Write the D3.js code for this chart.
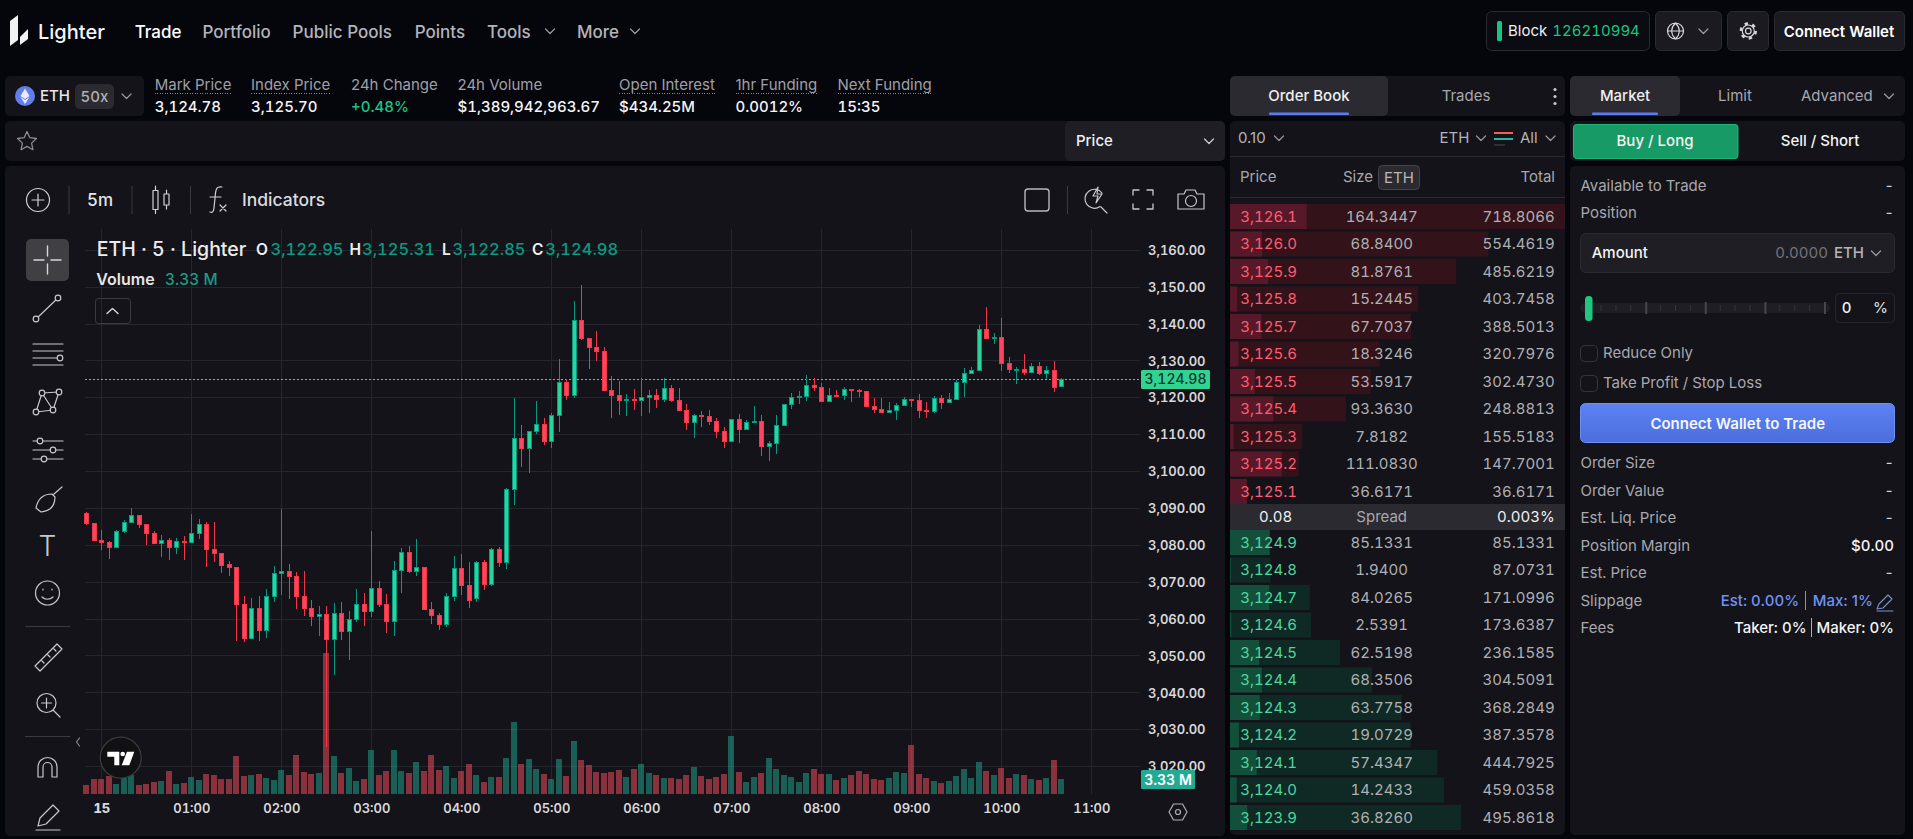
<!DOCTYPE html>
<html>
<head>
<meta charset="utf-8">
<title>Lighter ETH</title>
<script src="https://cdn.jsdelivr.net/npm/d3@7"></script>
<style>
html, body { margin: 0; padding: 0; background: #05050c; overflow: hidden; }
text { font-family: Inter, "Noto Sans", sans-serif; font-variant-numeric: tabular-nums; }
</style>
</head>
<body>
<script>
// 5m candles (first one is 23:50, last one is 10:40)
var opens = [3088.7,3086.0,3081.4,3080.8,3079.5,3083.7,3086.2,3088.1,3085.7,3083.3,
3080.5,3081.4,3079.4,3081.1,3080.7,3083.2,3085.7,3078.9,3077.8,3074.7,
3074.0,3064.0,3054.7,3062.9,3056.9,3066.1,3072.3,3073.0,3071.6,3066.2,
3062.9,3060.7,3061.3,3054.4,3061.6,3056.6,3059.9,3064.0,3062.0,3068.4,
3064.0,3059.3,3073.1,3078.1,3072.9,3074.0,3062.7,3061.0,3058.5,3066.0,
3073.8,3069.0,3065.5,3075.4,3069.5,3078.9,3075.3,3095.2,3109.0,3106.2,
3110.9,3112.8,3108.1,3115.3,3124.2,3120.6,3141.0,3136.1,3133.7,3132.6,
3122.0,3120.7,3119.2,3119.6,3119.2,3120.0,3120.7,3119.5,3122.6,3119.3,
3116.6,3113.3,3115.3,3115.0,3113.6,3110.9,3108.1,3114.2,3111.4,3113.4,
3113.6,3106.8,3107.6,3112.5,3118.2,3120.1,3120.3,3123.4,3122.9,3119.0,
3120.7,3120.7,3122.3,3122.0,3121.8,3117.7,3116.9,3116.0,3116.5,3118.0,
3119.6,3119.3,3116.6,3116.3,3119.9,3118.7,3119.6,3124.1,3126.6,3127.5,
3138.6,3136.2,3136.4,3129.4,3127.6,3127.7,3126.8,3128.5,3126.6,3127.5,3122.95];
var highs = [3089.1,3086.0,3084.2,3081.2,3084.2,3086.9,3090.1,3088.1,3085.7,3083.9,
3082.8,3082.0,3082.0,3082.6,3088.5,3087.1,3086.3,3086.3,3077.8,3075.8,
3074.0,3066.3,3065.7,3066.3,3068.2,3074.4,3089.9,3074.9,3072.7,3073.0,
3065.1,3063.5,3063.5,3064.3,3064.6,3062.1,3068.1,3067.0,3083.9,3070.2,
3066.7,3075.8,3079.2,3079.8,3081.7,3074.0,3064.5,3061.6,3067.0,3077.1,
3077.7,3075.5,3075.8,3076.0,3079.2,3079.5,3095.5,3119.9,3112.6,3110.9,
3119.1,3114.4,3115.8,3130.5,3125.0,3146.3,3150.6,3136.1,3138.1,3133.7,
3125.8,3124.5,3121.0,3122.3,3125.3,3122.0,3122.3,3125.3,3123.4,3122.6,
3118.2,3115.5,3116.3,3116.6,3114.4,3112.0,3114.2,3115.5,3113.9,3117.8,
3115.3,3108.2,3115.3,3118.2,3121.2,3121.9,3126.1,3125.3,3123.9,3122.7,
3122.0,3122.8,3122.3,3122.3,3121.8,3119.9,3119.9,3118.8,3118.5,3120.1,
3119.8,3121.0,3118.8,3120.4,3120.7,3121.2,3124.7,3128.0,3128.3,3139.7,
3144.5,3137.5,3141.6,3131.0,3128.3,3131.8,3129.4,3129.6,3128.5,3129.9,3125.31];
var lows = [3085.5,3081.3,3078.8,3076.4,3079.5,3083.4,3086.2,3084.8,3080.1,3080.5,
3076.9,3075.9,3077.7,3076.1,3080.5,3081.8,3074.2,3075.6,3072.6,3071.8,
3054.1,3053.9,3054.7,3054.1,3055.0,3064.7,3066.5,3065.5,3062.8,3060.9,
3058.2,3055.5,3025.2,3044.9,3054.4,3049.0,3059.3,3058.0,3060.7,3063.4,
3056.3,3055.4,3067.2,3072.6,3071.8,3062.6,3058.7,3057.0,3057.8,3065.0,
3066.5,3063.0,3064.5,3068.0,3069.0,3074.0,3073.5,3090.9,3101.3,3099.7,
3110.3,3107.2,3106.5,3110.8,3119.5,3120.0,3135.8,3127.9,3130.1,3121.9,
3114.6,3115.4,3115.2,3116.8,3115.2,3116.0,3117.3,3119.0,3119.0,3116.5,
3111.4,3109.2,3112.2,3112.5,3109.2,3106.5,3108.1,3107.8,3111.4,3113.3,
3104.3,3103.0,3104.9,3112.5,3117.0,3118.2,3119.2,3121.9,3119.0,3119.0,
3120.6,3119.5,3119.0,3120.3,3117.6,3116.0,3116.0,3116.0,3114.1,3118.0,
3117.5,3114.6,3114.6,3116.0,3117.1,3118.7,3119.6,3120.3,3126.6,3127.5,
3136.0,3134.7,3127.4,3126.8,3123.8,3126.3,3126.6,3126.3,3125.0,3121.7,3122.85];
var closes = [3085.8,3081.3,3080.7,3079.4,3083.8,3086.2,3088.1,3085.6,3083.2,3080.5,
3081.4,3079.4,3081.1,3081.0,3083.3,3085.7,3078.9,3077.7,3074.5,3074.0,
3063.9,3054.7,3062.9,3056.9,3066.2,3072.4,3073.0,3071.5,3066.1,3062.8,
3060.7,3061.3,3054.4,3061.6,3056.6,3059.9,3064.0,3062.0,3068.4,3063.9,
3059.3,3073.2,3078.1,3072.9,3074.0,3062.6,3060.9,3058.5,3066.0,3073.8,
3069.0,3065.0,3075.4,3069.5,3078.9,3075.3,3095.2,3109.0,3106.2,3110.9,
3112.8,3108.1,3115.3,3124.2,3120.6,3141.0,3136.0,3133.6,3132.5,3121.9,
3120.6,3119.2,3119.6,3119.5,3120.1,3120.7,3119.5,3122.6,3119.2,3116.5,
3113.3,3115.3,3115.2,3113.5,3110.8,3108.1,3114.2,3111.4,3113.4,3113.6,
3106.8,3107.7,3112.5,3118.2,3120.1,3120.4,3123.4,3122.8,3119.0,3120.7,
3120.6,3122.3,3122.2,3121.7,3117.6,3116.8,3116.0,3116.6,3118.0,3119.6,
3119.3,3116.5,3116.3,3119.9,3118.7,3119.6,3124.2,3126.6,3127.5,3138.6,
3136.0,3136.3,3129.3,3127.6,3127.7,3126.8,3128.5,3126.6,3127.5,3122.8,3124.98];
// volume per candle, millions
var volumes = [2.0,3.33,3.33,4.0,2.22,3.8,4.2,2.0,2.2,2.67,2.9,5.1,2.2,2.44,3.8,3.1,4.44,4.2,3.33,3.33,
8.44,4.0,4.2,4.44,3.55,3.1,5.33,4.2,8.67,4.9,4.44,4.67,31.3,8.44,4.67,5.78,2.9,3.33,9.78,4.2,
5.1,9.78,5.1,4.67,7.1,5.1,8.67,5.33,6.2,3.55,5.1,6.67,4.2,2.67,3.8,3.8,8.0,16.0,6.67,7.78,
5.55,4.44,3.33,7.78,4.0,11.78,7.55,6.44,4.9,4.67,4.9,5.33,3.8,5.55,6.67,4.67,4.2,3.55,3.55,3.33,
4.2,6.0,4.0,3.33,3.8,4.44,12.9,4.9,2.67,3.8,4.67,8.0,5.55,4.2,3.8,2.67,4.67,5.55,4.44,4.44,
3.1,3.55,4.2,5.1,4.44,3.33,3.1,3.55,4.9,4.67,10.9,4.44,3.55,2.9,2.44,2.9,4.0,5.55,3.55,7.1,
5.1,4.2,5.78,3.55,4.44,4.2,3.33,3.1,3.55,7.55,3.33];
var firstBarMinutes = -10;
var barMinutes = 5;
var priceTicks = [3160,3150,3140,3130,3120,3110,3100,3090,3080,3070,3060,3050,3040,3030,3020];
var hourMinutes = [0,60,120,180,240,300,360,420,480,540,600,660];
var hourLabels = ["15","01:00","02:00","03:00","04:00","05:00","06:00","07:00","08:00","09:00","10:00","11:00"];
var lastPrice = 3124.98;
var lastVolume = 3.33;

// order book
var askPrices = ["3,126.1","3,126.0","3,125.9","3,125.8","3,125.7","3,125.6","3,125.5","3,125.4","3,125.3","3,125.2","3,125.1"];
var askSizes = [164.3447,68.84,81.8761,15.2445,67.7037,18.3246,53.5917,93.363,7.8182,111.083,36.6171];
var askTotals = [718.8066,554.4619,485.6219,403.7458,388.5013,320.7976,302.473,248.8813,155.5183,147.7001,36.6171];
var bidPrices = ["3,124.9","3,124.8","3,124.7","3,124.6","3,124.5","3,124.4","3,124.3","3,124.2","3,124.1","3,124.0","3,123.9"];
var bidSizes = [85.1331,1.94,84.0265,2.5391,62.5198,68.3506,63.7758,19.0729,57.4347,14.2433,36.826];
var bidTotals = [85.1331,87.0731,171.0996,173.6387,236.1585,304.5091,368.2849,387.3578,444.7925,459.0358,495.8618];

var statLabels = ["Mark Price","Index Price","24h Change","24h Volume","Open Interest","1hr Funding","Next Funding"];
var statValues = ["3,124.78","3,125.70","+0.48%","$1,389,942,963.67","$434.25M","0.0012%","15:35"];
var navItems = ["Trade","Portfolio","Public Pools","Points","Tools","More"];
var orderLabels = ["Order Size","Order Value","Est. Liq. Price","Position Margin","Est. Price"];
var orderValues = ["-","-","-","$0.00","-"];

var panelBg = "#131319", activeBg = "#2a2a30", grey = "#a8a8ae", soft = "#d4d4d8";
var upFill = "#2bd49b", upEdge = "#089981", downFill = "#ff4560", downEdge = "#f23645";

var svg = d3.select("body").append("svg").attr("width", 1913).attr("height", 839).style("display", "block");

function box(x0, y0, x1, y1, fill, r, stroke, parent) {
    return (parent || svg).append("rect").attr("x", x0).attr("y", y0).attr("width", x1 - x0).attr("height", y1 - y0)
        .attr("fill", fill).attr("rx", r || 0).attr("stroke", stroke || "none");
}
function txt(x, y, s, size, fill, weight, anchor, parent) {
    return (parent || svg).append("text").attr("x", x).attr("y", y).attr("dy", "0.36em").text(s)
        .attr("font-size", size).attr("fill", fill || "#fff").attr("font-weight", weight || 400)
        .attr("text-anchor", anchor || "start");
}
function icon(d, stroke, w, fill) {
    return svg.append("path").attr("d", d).attr("fill", fill || "none").attr("stroke", stroke || "#cfcfd3")
        .attr("stroke-width", w || 1.3).attr("stroke-linejoin", "round").attr("stroke-linecap", "round");
}
function chevron(x, y, col) {
    icon("M" + (x - 4.5) + " " + (y - 2) + "L" + x + " " + (y + 2.5) + "L" + (x + 4.5) + " " + (y - 2), col || "#9a9aa0", 1.2);
}
function dot(cx, cy, r, stroke) {
    svg.append("circle").attr("cx", cx).attr("cy", cy).attr("r", r).attr("fill", panelBg).attr("stroke", stroke || "#c8c8cc").attr("stroke-width", 1.2);
}

// ---- top nav
icon("M10 21L18 15L18 40L10 46Z", "none", 0, "#f2f2f2");
icon("M20 37L28 29L28 39L20 45Z", "none", 0, "#f2f2f2");
txt(38, 32, "Lighter", 20, "#f5f5f5", 500);
var navX = [134.7, 202.4, 292.6, 414.7, 487, 577];
navItems.forEach(function(n, i) {
    txt(navX[i], 32, n, 17, i == 0 ? "#fff" : "#b4b4ba", 500);
});
chevron(550, 31); chevron(635, 31);

box(1486.5, 11.5, 1649.5, 50.5, "#0b0b12", 5, "#2a2a30");
box(1497, 21, 1502, 41, "#16c784", 1.5);
txt(1508, 31, "Block", 15, "#f0f0f0", 400);
txt(1552.3, 31, "126210994", 15, "#16c784", 400);
box(1655.5, 11.5, 1721.5, 50.5, "#1a1a20", 5, "#2a2a30");
icon("M1667.5 31a8 8 0 1 0 16 0a8 8 0 1 0 -16 0M1667.5 31h16M1675.5 23c-5 5 -5 11 0 16M1675.5 23c5 5 5 11 0 16", "#d8d8dc", 1.2);
chevron(1703.4, 31);
box(1727.5, 11.5, 1768.5, 50.5, "#1a1a20", 5, "#2a2a30");
// gear: ring plus a dashed ring for the teeth
svg.append("circle").attr("cx", 1748.3).attr("cy", 31).attr("r", 6).attr("fill", "none").attr("stroke", "#d8d8dc").attr("stroke-width", 1.2);
svg.append("circle").attr("cx", 1748.3).attr("cy", 31).attr("r", 7.5).attr("fill", "none").attr("stroke", "#d8d8dc").attr("stroke-width", 2.4).attr("stroke-dasharray", "3.4 4.45");
svg.append("circle").attr("cx", 1748.3).attr("cy", 31).attr("r", 2.8).attr("fill", "none").attr("stroke", "#d8d8dc").attr("stroke-width", 1.2);
box(1774.5, 11.5, 1904.5, 50.5, "#1a1a20", 5, "#2a2a30");
txt(1839, 32, "Connect Wallet", 15, "#fff", 600, "middle");

// ---- market stats
box(5, 76, 144, 116, panelBg, 5);
svg.append("circle").attr("cx", 25).attr("cy", 96).attr("r", 10).attr("fill", "#627eea");
icon("M25 88.5L29.5 96L25 99L20.5 96ZM20.5 97L25 104L29.5 97L25 100Z", "none", 0, "#e8ecff");
txt(40, 96, "ETH", 15, "#e8e8ea", 500);
box(75, 84, 114, 109, activeBg, 5);
txt(94.5, 96.5, "50x", 15, "#b0b0b4", 500, "middle");
chevron(126.5, 96);
var statX = [154.7, 251, 351, 457.5, 619, 735.5, 837.5];
statLabels.forEach(function(l, i) {
    var t = txt(statX[i], 85, l, 15, "#a0a0a8").style("font-variant-numeric", "normal");
    if (i != 2 && i != 3) {
        var w = t.node().getComputedTextLength();
        svg.append("line").attr("x1", statX[i]).attr("x2", statX[i] + w).attr("y1", 93.5).attr("y2", 93.5)
            .attr("stroke", "#85858c").attr("stroke-dasharray", "1 1.5").attr("shape-rendering", "crispEdges");
    }
    txt(statX[i], 107, statValues[i], 15, i == 2 ? "#16c784" : "#f4f4f6", 500);
});

// ---- favourites strip
box(5, 121, 1225, 161, panelBg, 5);
icon("M27 131.5l2.9 6.2l6.6 .8l-4.9 4.6l1.3 6.6l-5.9 -3.3l-5.9 3.3l1.3 -6.6l-4.9 -4.6l6.6 -.8z", "#8c8c92", 1.3);
box(1065, 121, 1225, 161, "#1e1e24", 5);
txt(1076, 141, "Price", 15, "#f0f0f2", 500);
chevron(1209, 141, "#d0d0d4");

// ---- chart panel and toolbar
box(5, 166, 1225, 836, panelBg, 5);
icon("M26.5 200a11.5 11.5 0 1 0 23 0a11.5 11.5 0 1 0 -23 0M38 194v12M32 200h12", "#d0d0d4", 1.2);
[68.5, 131.5, 190].forEach(function(x) { box(x, 186, x + 1, 214, "#3a3a40"); });
txt(87, 200, "5m", 17, "#e6e6e8", 500);
icon("M153 190.5h5v19h-5zM155.5 186v4.5M155.5 209.5v4M164 194h5v11h-5zM166.5 190v4M166.5 205v4", "#d0d0d4", 1.2);
icon("M222 187c-5 -1 -6 2 -6.5 6l-1.5 15c-.4 4 -2 5 -4 4M210 197h11M220 205l6 6M226 205l-6 6", "#d0d0d4", 1.2);
txt(242, 200, "Indicators", 17.5, "#dcdce0", 500);
box(1025, 189, 1049, 211, "none", 3, "#b8b8bc").attr("stroke-width", 1.4);
box(1067, 186, 1068, 214, "#3a3a40");
icon("M1102 193a9.5 9.5 0 1 0 -2 13.5M1101 207l6 6M1098 187l-5 9h5l-2 7l6 -9h-5z", "#c8c8cc", 1.2);
icon("M1133 195v-5h6M1147 190h6v5M1153 204v5h-6M1139 209h-6v-5", "#c8c8cc", 1.3);
icon("M1178 194h6l2 -4h9l2 4h7v15h-26zM1185.5 201a5.5 5.5 0 1 0 11 0a5.5 5.5 0 1 0 -11 0", "#c8c8cc", 1.2);

// ---- left drawing tools
box(26, 239, 69, 281, "#3f3f44", 5);
icon("M47.5 246v10M47.5 264v10M34 260h10M51 260h10", "#d8d8dc", 1.4);
icon("M36 319L58 298", "#c8c8cc", 1.2); dot(36, 319, 2.8); dot(58, 298, 2.8);
icon("M33 344h30M33 351h30M33 358h24M33 365h30", "#c8c8cc", 1.2); dot(60, 358, 2.8);
icon("M36 412L42 393L53 410L59 392M36 412L53 410M42 393L59 392", "#c8c8cc", 1.2);
dot(36, 412, 2.8); dot(42, 393, 2.8); dot(53, 410, 2.8); dot(59, 392, 2.8);
icon("M33 441h30M33 450h30M33 459h30", "#c8c8cc", 1.2); dot(40, 441, 2.8); dot(53, 450, 2.8); dot(44, 459, 2.8);
icon("M36 508c2 -10 8 -14 16 -14l3 3c0 8 -4 14 -14 15zM54 494l8 -7", "#c8c8cc", 1.2);
txt(47.5, 546, "T", 28, "#c8c8cc", 300, "middle");
icon("M35.5 593a12 12 0 1 0 24 0a12 12 0 1 0 -24 0M42 597c3 3 8 3 11 0M43 589v1M52 589v1", "#c8c8cc", 1.2);
box(25, 626, 70, 627, "#3a3a40");
icon("M35 666L57 644L62 649L40 671ZM41 660l3 3M47 654l3 3M53 648l3 3", "#c8c8cc", 1.2);
icon("M37 703a9.5 9.5 0 1 0 19 0a9.5 9.5 0 1 0 -19 0M53 710l7 7M46.5 698v10M41.5 703h10", "#c8c8cc", 1.2);
box(25, 736, 70, 737, "#3a3a40");
icon("M38 777v-10a9.5 9.5 0 0 1 19 0v10h-5v-10a4.5 4.5 0 0 0 -9 0v10z", "#c8c8cc", 1.2);
icon("M38 826l2 -8l13 -13l6 6l-13 13zM36 830h24", "#c8c8cc", 1.2);
icon("M79.5 738l-3 4l3 4", "#8c8c92", 1.2);

// ---- chart
var plotLeft = 85, plotRight = 1140, plotTop = 229, plotBottom = 794;
var x = d3.scaleLinear().domain([0, 660]).range([101.3, 1091.3]);
var y = d3.scaleLinear().domain([3160, 3020]).range([250.3, 766.6]);
var yVol = d3.scaleLinear().domain([0, 31.3]).range([plotBottom, plotBottom - 141]);

var bars = opens.map(function(o, i) {
    return { minutes: firstBarMinutes + i * barMinutes, open: o, high: highs[i], low: lows[i], close: closes[i], volume: volumes[i] };
});

var chart = svg.append("g");
var grid = chart.append("g").attr("shape-rendering", "crispEdges");
grid.selectAll("line.h").data(priceTicks).join("line").attr("class", "h")
    .attr("x1", plotLeft).attr("x2", plotRight)
    .attr("y1", function(d) { return y(d); }).attr("y2", function(d) { return y(d); })
    .attr("stroke", "#25252c");
grid.selectAll("line.v").data(hourMinutes).join("line").attr("class", "v")
    .attr("y1", plotTop).attr("y2", plotBottom)
    .attr("x1", function(d) { return x(d); }).attr("x2", function(d) { return x(d); })
    .attr("stroke", "#25252c");

// volume sits under the candles
chart.append("g").attr("shape-rendering", "crispEdges").selectAll("rect").data(bars).join("rect")
    .attr("x", function(d) { return Math.round(x(d.minutes) - 3); })
    .attr("width", 6)
    .attr("y", function(d) { return yVol(d.volume); })
    .attr("height", function(d) { return plotBottom - yVol(d.volume); })
    .attr("fill", function(d) { return d.close < d.open ? "rgba(255,82,100,.5)" : "rgba(34,171,148,.5)"; });

// dotted last price line
chart.append("line").attr("x1", plotLeft).attr("x2", plotRight).attr("y1", y(lastPrice)).attr("y2", y(lastPrice))
    .attr("stroke", "#3bd6a3").attr("stroke-dasharray", "1.5 2.5").attr("shape-rendering", "crispEdges");

var candle = chart.append("g").attr("shape-rendering", "crispEdges").selectAll("g").data(bars).join("g");
candle.append("line")
    .attr("x1", function(d) { return Math.round(x(d.minutes)) + 0.5; })
    .attr("x2", function(d) { return Math.round(x(d.minutes)) + 0.5; })
    .attr("y1", function(d) { return y(d.high); })
    .attr("y2", function(d) { return y(d.low); })
    .attr("stroke", function(d) { return d.close < d.open ? downEdge : upEdge; });
candle.append("rect")
    .attr("x", function(d) { return Math.round(x(d.minutes)) - 1.5; })
    .attr("width", 4)
    .attr("y", function(d) { return Math.min(y(d.open), y(d.close)); })
    .attr("height", function(d) { return Math.max(Math.abs(y(d.open) - y(d.close)), 1); })
    .attr("fill", function(d) { return d.close < d.open ? downFill : upFill; })
    .attr("stroke", function(d) { return d.close < d.open ? downEdge : upEdge; });

// axes
var yAxis = d3.axisRight(y).tickValues(priceTicks).tickFormat(d3.format(",.2f")).tickSize(0).tickPadding(8);
var xAxis = d3.axisBottom(x).tickValues(hourMinutes).tickFormat(function(d, i) { return hourLabels[i]; }).tickSize(0).tickPadding(10);
var gy = svg.append("g").attr("transform", "translate(" + plotRight + ",0)").call(yAxis);
var gx = svg.append("g").attr("transform", "translate(0," + plotBottom + ")").call(xAxis);
[gy, gx].forEach(function(g) {
    g.select(".domain").remove();
    g.selectAll("text").attr("font-size", 13).attr("font-weight", 600).attr("fill", "#d8d8da").attr("font-family", "Inter");
});
gx.select(".tick text").attr("font-weight", 800);

// last value tags
box(1141, y(lastPrice) - 9.5, 1210, y(lastPrice) + 9.5, "#31d393", 1.5);
txt(1175.5, y(lastPrice), d3.format(",.2f")(lastPrice), 14, "#12352b", 500, "middle");
box(1141, 770, 1195, 789, "#21ab94", 1.5);
txt(1168, 779.5, d3.format(".2f")(lastVolume) + " M", 14, "#fff", 600, "middle");
icon("M1169 812l4.5 -8h9l4.5 8l-4.5 8h-9zM1175.5 812a2.5 2.5 0 1 0 5 0a2.5 2.5 0 1 0 -5 0", "#b0b0b4", 1.2);

// legend
txt(96.7, 249, "ETH · 5 · Lighter", 19.5, "#ececee", 500);
var ohlcKeys = ["O", "H", "L", "C"], ohlcKeyX = [256, 349.4, 442, 532], ohlcValX = [270.5, 362, 452.5, 545.2];
var lastBar = bars[bars.length - 1];
[lastBar.open, lastBar.high, lastBar.low, lastBar.close].forEach(function(v, i) {
    txt(ohlcKeyX[i], 249, ohlcKeys[i], 15.5, "#f0f0f0", 600);
    txt(ohlcValX[i], 249, d3.format(",.2f")(v), 16.5, "#089981", 500);
});
txt(96.3, 279, "Volume", 16, "#e6e6e8", 600);
txt(165, 279, d3.format(".2f")(lastVolume) + " M", 15.5, "#1a9b85", 500);
box(95.5, 298.5, 130.5, 323.5, "none", 3, "#3a3a40");
icon("M107 313.5l5.5 -5l5.5 5", "#d8d8dc", 1.4);

// TradingView badge
svg.append("circle").attr("cx", 120.7).attr("cy", 757.7).attr("r", 20.5).attr("fill", "#111113").attr("stroke", "#3c3c3e").attr("stroke-width", 1.2);
icon("M107.3 751.7h12v13.6h-5v-8.6h-7z", "none", 0, "#fff");
svg.append("circle").attr("cx", 122.7).attr("cy", 754).attr("r", 2.3).attr("fill", "#fff");
icon("M127 751.7h7.3l-5 13.6h-7.6z", "none", 0, "#fff");

// ---- order book
box(1230, 76, 1565, 116, panelBg, 5);
box(1230, 76, 1388, 116, activeBg, 5);
box(1269, 112.5, 1349, 115, "#5b7cf0", 1);
txt(1309, 96, "Order Book", 15, "#f0f0f2", 500, "middle");
txt(1466, 96, "Trades", 15, "#a8a8ae", 400, "middle");
[89.5, 96.5, 103.5].forEach(function(cy) {
    svg.append("circle").attr("cx", 1555).attr("cy", cy).attr("r", 1.6).attr("fill", "#c8c8cc");
});
box(1230, 121, 1565, 835, panelBg, 5);
txt(1238, 138, "0.10", 15, "#b4b4ba").style("font-variant-numeric", "normal");
chevron(1279, 138);
txt(1439.5, 138, "ETH", 15, "#b4b4ba");
chevron(1481, 138);
box(1494, 132, 1513, 134, "#f5604f");
box(1494, 138, 1513, 140, "#26b8a0");
box(1494, 144, 1505, 146, "#2e2e34");
txt(1520, 138, "All", 15, "#b4b4ba");
chevron(1550.5, 138);
box(1230, 156, 1565, 157, "#2a2a30");
txt(1240, 177, "Price", 15, grey);
txt(1373, 177, "Size", 15, grey, 400, "end");
box(1378.5, 165.5, 1419.5, 189.5, activeBg, 4, "#45454b");
txt(1399, 177.5, "ETH", 15, "#b8b8bc", 400, "middle");
txt(1555, 177, "Total", 15, grey, 400, "end");
box(1230, 197, 1565, 198, "#2a2a30");

var depth = d3.scaleLinear().domain([0, 718.8066]).range([0, 335]);
var sizeFmt = d3.format(".4f");
function bookRows(prices, sizes, totals, top, totalCol, sizeCol, textCol) {
    var rows = svg.append("g").selectAll("g").data(prices).join("g")
        .attr("transform", function(d, i) { return "translate(1230," + (top + i * 27.5) + ")"; });
    rows.append("rect").attr("height", 25).attr("width", function(d, i) { return depth(totals[i]); }).attr("fill", totalCol);
    rows.append("rect").attr("height", 25).attr("width", function(d, i) { return depth(sizes[i]); }).attr("fill", sizeCol);
    rows.append("text").attr("x", 10.3).attr("y", 12.5).attr("dy", "0.36em").attr("font-size", 15).attr("fill", textCol)
        .text(function(d) { return d; });
    rows.append("text").attr("x", 151.7).attr("y", 12.5).attr("dy", "0.36em").attr("font-size", 15).attr("fill", "#b0b0b4")
        .attr("text-anchor", "middle").text(function(d, i) { return sizeFmt(sizes[i]); });
    rows.append("text").attr("x", 324.7).attr("y", 12.5).attr("dy", "0.36em").attr("font-size", 15).attr("fill", "#b0b0b4")
        .attr("text-anchor", "end").text(function(d, i) { return sizeFmt(totals[i]); });
}
bookRows(askPrices, askSizes, askTotals, 204, "#33121a", "#57192a", "#ff5c70");
box(1230, 504, 1565, 530, activeBg);
txt(1275.7, 517, "0.08", 15, "#f0f0f2", 400, "middle");
txt(1381.7, 517, "Spread", 15, grey, 400, "middle");
txt(1554.7, 517, "0.003%", 15, "#f0f0f2", 400, "end");
bookRows(bidPrices, bidSizes, bidTotals, 530, "#0f2a25", "#13503c", "#4fd6a0");

// ---- order form
box(1570, 76, 1905, 116, panelBg, 5);
box(1570, 76, 1680, 116, activeBg, 5);
box(1592, 112.5, 1658, 115, "#5b7cf0", 1);
txt(1625, 96, "Market", 15, "#f0f0f2", 500, "middle");
txt(1735, 96, "Limit", 15, "#a8a8ae", 400, "middle");
txt(1801, 96, "Advanced", 15, "#a8a8ae");
chevron(1889, 96);
box(1570, 121, 1905, 161, panelBg, 5);
box(1573.5, 124.5, 1738, 158.5, "#179a65", 3, "#1fb67a");
txt(1655, 141, "Buy / Long", 15, "#f4f4f4", 500, "middle");
txt(1820, 141, "Sell / Short", 15, "#f4f4f4", 500, "middle");
box(1570, 166, 1905, 835, panelBg, 5);
txt(1580.5, 185.7, "Available to Trade", 15, grey);
txt(1580.5, 212.7, "Position", 15, grey);
txt(1894, 185.7, "-", 15, "#d4d4d8", 400, "end");
txt(1894, 212.7, "-", 15, "#d4d4d8", 400, "end");
box(1580.5, 233.5, 1894.5, 272.5, "#1e1e24", 5, "#2a2a30");
txt(1591.7, 252.7, "Amount", 15, "#f4f4f6", 500);
txt(1828, 252.7, "0.0000", 15, "#74747a", 400, "end");
txt(1834, 252.7, "ETH", 15, "#b4b4ba", 500);
chevron(1876, 253);

// slider, its notches are only decoration
box(1580, 303, 1830, 313, "#1e1e24", 5);
d3.range(16).forEach(function(i) {
    var tx = 1600.5 + i * 14.9;
    var major = i % 4 == 3;
    box(tx, major ? 302 : 305, tx + (major ? 2 : 1), major ? 314 : 311, major ? "#46464c" : "#34343a");
});
box(1585, 296, 1592.5, 321, "#1fc77f", 3.5);
box(1835.5, 293.5, 1894.5, 322.5, "none", 4, "#26262c");
txt(1841.7, 308, "0", 15, "#f0f0f2", 500);
txt(1888, 308, "%", 15, "#d8d8dc", 500, "end");
box(1580.5, 345.5, 1597.5, 361.5, "none", 4, "#34343a");
txt(1603, 352.7, "Reduce Only", 15, grey);
box(1580.5, 375.5, 1597.5, 391.5, "none", 4, "#34343a");
txt(1603, 382.7, "Take Profit / Stop Loss", 15, grey);

var btnGrad = svg.append("defs").append("linearGradient").attr("id", "btn").attr("x1", 0).attr("x2", 0).attr("y1", 0).attr("y2", 1);
btnGrad.append("stop").attr("offset", "0").attr("stop-color", "#5c82f4");
btnGrad.append("stop").attr("offset", "1").attr("stop-color", "#4c6edc");
box(1580.5, 403.5, 1894.5, 442.5, "url(#btn)", 5, "#6b8ef7");
txt(1737.7, 423.7, "Connect Wallet to Trade", 15, "#f4f6ff", 600, "middle");

var orderY = [462.7, 490.7, 517.7, 545.7, 572.7];
orderLabels.forEach(function(l, i) {
    txt(1580.5, orderY[i], l, 15, grey);
    txt(1894, orderY[i], orderValues[i], 15, orderValues[i] == "-" ? "#d4d4d8" : "#f4f4f6", orderValues[i] == "-" ? 400 : 500, "end");
});
txt(1580.5, 600.7, "Slippage", 15, grey);
txt(1720.7, 600.7, "Est: 0.00%", 15, "#6f92f5", 500);
box(1805, 591, 1806, 610, "#6f92f5");
txt(1812.7, 600.7, "Max: 1%", 15, "#6f92f5", 500).style("font-variant-numeric", "normal");
icon("M1877 609l2 -5l9 -9l4 4l-9 9zM1877 611h16", "#7f90c8", 1.1);
txt(1580.5, 627.7, "Fees", 15, grey);
txt(1734, 627.7, "Taker: 0%", 15, "#f4f4f6", 500);
box(1811, 618, 1812, 637, "#b0b0b4");
txt(1894, 627.7, "Maker: 0%", 15, "#f4f4f6", 500, "end");
</script>
</body>
</html>
